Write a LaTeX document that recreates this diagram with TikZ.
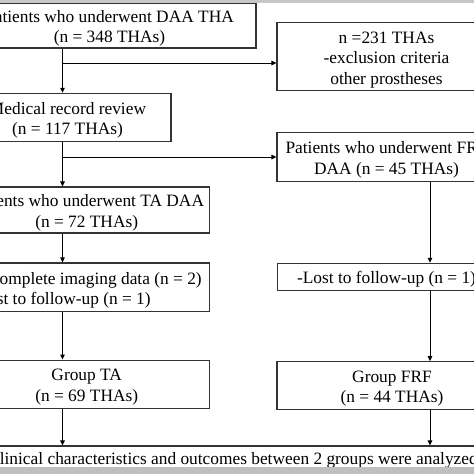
\documentclass[tikz,border=0pt]{standalone}
\usepackage{fontspec}
\setmainfont{Liberation Serif}
\usetikzlibrary{arrows.meta}
\begin{document}
\begin{tikzpicture}[x=1pt,y=-1pt,
  box/.style={draw=black!80,line width=1.1pt,fill=white,inner sep=0pt,align=center,
    font=\fontsize{17.35}{20.5}\selectfont},
  one/.style={text height=17.5pt},
  two/.style={text height=38.5pt,text depth=4pt},
  three/.style={text height=59pt,text depth=4pt},
  conn/.style={line width=1pt,black},
  arr/.style={conn,-{Triangle[length=5pt,width=4.5pt]}}]
\useasboundingbox (0,0) rectangle (474,474);
\clip (0,0) rectangle (474,474);
\fill[white] (0,0) rectangle (474,474);
% boxes
\node[box,two,minimum width=293pt,minimum height=45pt] (top) at (109.5,25.5)
  {Patients who underwent DAA THA\\(n = 348 THAs)};
\node[box,three,minimum width=219pt,minimum height=68pt] (excl) at (386.5,56.7)
  {n =231 THAs\\-exclusion criteria\\other prostheses};
\node[box,two,minimum width=207pt,minimum height=48.4pt] (med) at (67.5,117.5)
  {Medical record review\\(n = 117 THAs)};
\node[box,two,minimum width=219pt,minimum height=48.3pt] (frf) at (386.5,157)
  {Patients who underwent FRF\\DAA (n = 45 THAs)};
\node[box,two,minimum width=245pt,minimum height=46pt] (ta) at (86.7,210)
  {Patients who underwent TA DAA\\(n = 72 THAs)};
\node[box,two,align=left,minimum width=245pt,minimum height=48.7pt] (img) at (86.7,287.3)
  {-Incomplete imaging data (n = 2)\\-Lost to follow-up (n = 1)};
\node[box,one,minimum width=218pt,minimum height=27.4pt] (lost) at (386.5,277)
  {-Lost to follow-up (n = 1)};
\node[box,two,minimum width=245pt,minimum height=48.3pt] (gta) at (86.7,384.2)
  {Group TA\\(n = 69 THAs)};
\node[box,two,minimum width=230pt,minimum height=47.6pt] (gfrf) at (392,385.5)
  {Group FRF\\(n = 44 THAs)};
\node[box,one,minimum width=560pt,minimum height=24pt] (bot) at (233,458)
  {Clinical characteristics and outcomes between 2 groups were analyzed};
% connector columns
\coordinate (lx) at (62.5,0);
\coordinate (rx) at (430,0);
\coordinate (b1) at (62.5,63);
\coordinate (b2) at (62.5,157);
\draw[arr] (lx |- top.south) -- (lx |- med.north);
\draw[arr] (b1) -- (b1 -| excl.west);
\draw[arr] (lx |- med.south) -- (lx |- ta.north);
\draw[arr] (b2) -- (b2 -| frf.west);
\draw[arr] (lx |- ta.south) -- (lx |- img.north);
\draw[arr] (lx |- img.south) -- (lx |- gta.north);
\draw[arr] (lx |- gta.south) -- (lx |- bot.north);
\draw[arr] (rx |- frf.south) -- (rx |- lost.north);
\draw[arr] (rx |- lost.south) -- (rx |- gfrf.north);
\draw[arr] (rx |- gfrf.south) -- (rx |- bot.north);
% grey bands of the crop
\fill[black!22] (0,0) rectangle (474,2.5);
\fill[black!25] (0,466.5) rectangle (474,474);
\end{tikzpicture}
\end{document}
